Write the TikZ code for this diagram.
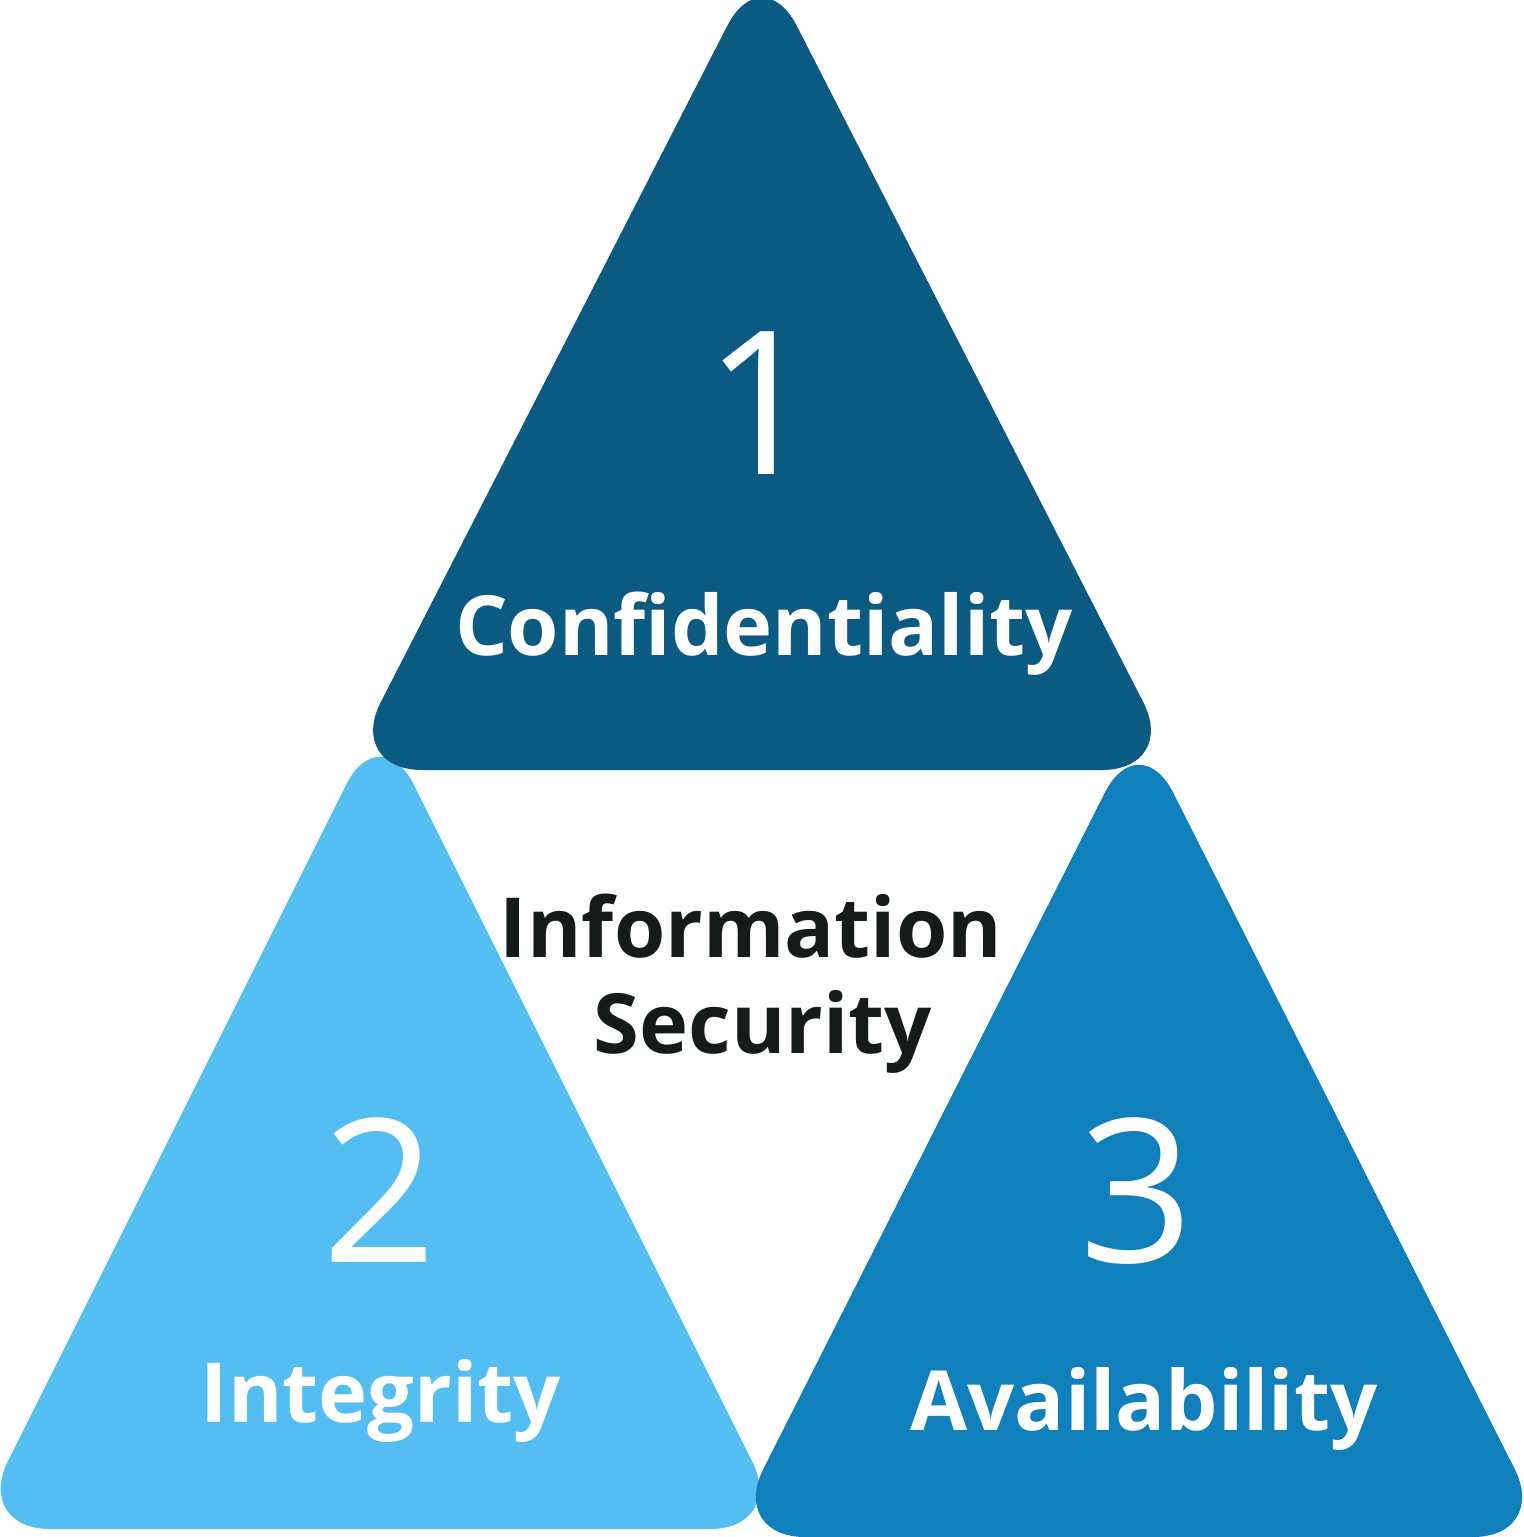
\documentclass[tikz,border=0pt]{standalone}
\usepackage{fontspec}
\setmainfont{Open Sans}
\definecolor{topc}{HTML}{0B5A82}
\definecolor{leftc}{HTML}{54BDF2}
\definecolor{rightc}{HTML}{0F80BB}
\definecolor{txtc}{HTML}{151A1A}
\begin{document}
\begin{tikzpicture}[x=0.5pt,y=-0.5pt,
  tri/.style={rounded corners=38pt},
  num/.style={anchor=base,inner sep=0pt,text=white,font=\fontsize{100}{110}\selectfont},
  lab/.style={anchor=base,inner sep=0pt,text=white,font=\fontsize{41.5}{48}\selectfont\bfseries},
  mid/.style={anchor=base,inner sep=0pt,text=txtc,font=\fontsize{41.5}{48}\selectfont\bfseries}]
\useasboundingbox (0,0) rectangle (1523,1537);
\fill[white] (0,0) rectangle (1523,1537);
% triangles
\fill[leftc, tri] (-26,1529) -- (380,717) -- (786,1529) -- cycle;
\fill[rightc, tri] (729,1537) -- (1139,725) -- (1549,1537) -- cycle;
\fill[topc, tri] (346,770) -- (762,-42) -- (1178,770) -- cycle;
% texts
\node[num] (n1) at (762,474) {1};
\node[lab] (l1) at (764,655) {Confidentiality};
\node[mid] (m1) at (751,957) {Information};
\node[mid] (m2) at (763,1053) {Security};
\node[num] (n2) at (380,1262) {2};
\node[lab] (l2) at (381,1422) {Integrity};
\node[num] (n3) at (1137,1262) {3};
\node[lab] (l3) at (1144,1430) {Availability};
\end{tikzpicture}
\end{document}
